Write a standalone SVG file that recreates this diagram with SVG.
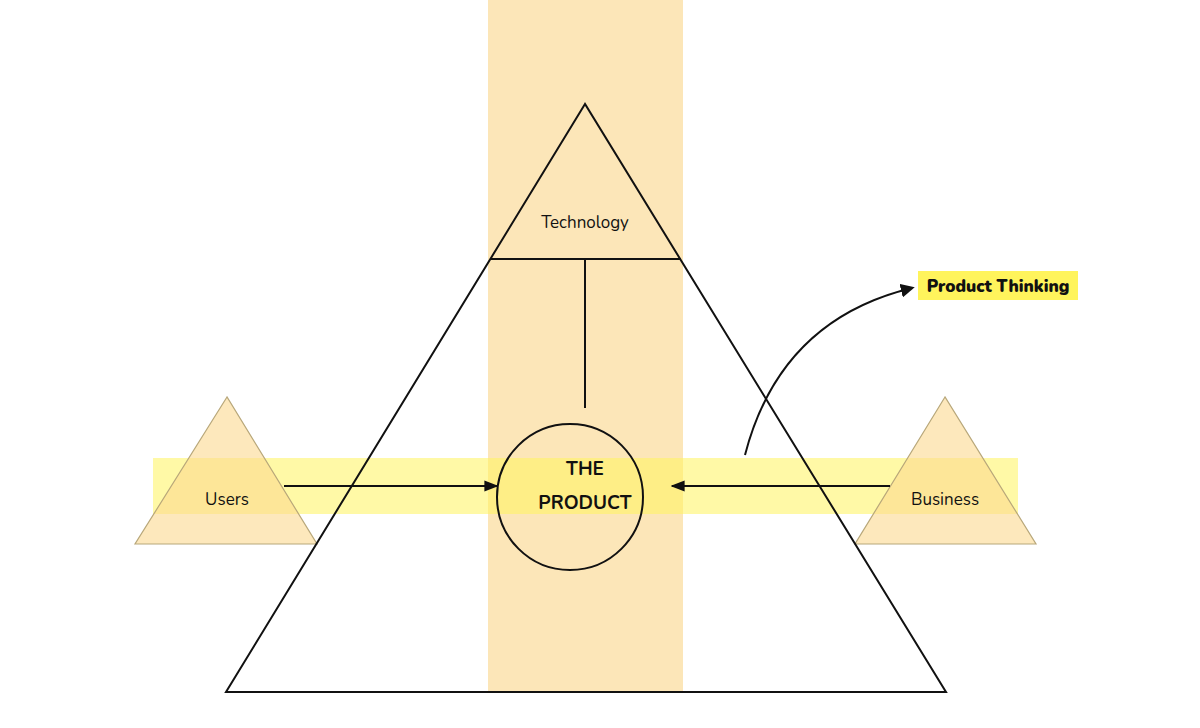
<svg xmlns="http://www.w3.org/2000/svg" width="1200" height="728" viewBox="0 0 1200 728">
<style>
.ln{stroke:#111;stroke-width:2;fill:none}
.side{fill:#fbd88f;fill-opacity:0.6;stroke:#b8a77a;stroke-width:1.2}
.t{font-family:"Nunito","Open Sans","Liberation Sans",sans-serif;fill:#111}
</style>
<defs>
<marker id="a" viewBox="0 0 10 10" refX="9" refY="5" markerWidth="7" markerHeight="7" orient="auto"><path d="M0,1L10,5L0,9z" fill="#111"/></marker>
<marker id="b" viewBox="0 0 10 10" refX="8" refY="5" markerWidth="7" markerHeight="7" orient="auto"><path d="M0,0L10,5L0,10z" fill="#111"/></marker>
</defs>
<rect width="1200" height="728" fill="#fff"/>
<rect x="488" y="0" width="195" height="692" fill="#fce6b8"/>
<rect x="153" y="458" width="865" height="56" fill="#fff45c" fill-opacity="0.55"/>
<g id="users"><polygon class="side" points="227,397 135,544 317,544"/><text class="t" x="227" y="505" font-size="17" text-anchor="middle">Users</text></g>
<g id="business"><polygon class="side" points="945,397 855,544 1036,544"/><text class="t" x="945" y="505" font-size="17" text-anchor="middle">Business</text></g>
<g id="pyramid"><polygon class="ln" points="585,104 226,692 946,692"/><line class="ln" x1="490" y1="259" x2="681" y2="259"/></g>
<g id="technology"><text class="t" x="585" y="228" font-size="17" text-anchor="middle">Technology</text></g>
<g id="product"><circle class="ln" cx="570" cy="497" r="73"/><text class="t" x="585" y="475" font-size="19" font-weight="bold" text-anchor="middle">THE</text><text class="t" x="585" y="509" font-size="19" font-weight="bold" text-anchor="middle">PRODUCT</text></g>
<g id="thinking"><rect x="918" y="271" width="160" height="29" fill="#fff45c"/><text class="t" x="998" y="292" font-size="17" font-weight="900" text-anchor="middle">Product Thinking</text></g>
<g id="connectors">
<line class="ln" x1="585" y1="259" x2="585" y2="408"/>
<line class="ln" stroke-width="1.6" x1="284" y1="486" x2="497" y2="486" marker-end="url(#a)"/>
<line class="ln" stroke-width="1.6" x1="890" y1="486" x2="672" y2="486" marker-end="url(#a)"/>
<path class="ln" stroke-width="3" d="M745,455 Q780,320 912,288" marker-end="url(#b)"/>
</g>
</svg>
